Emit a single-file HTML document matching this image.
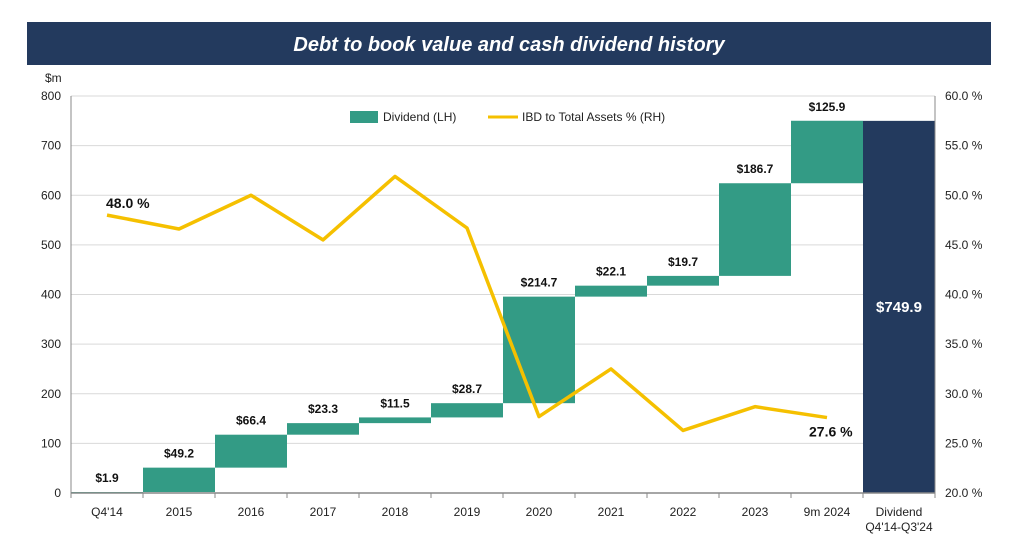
<!DOCTYPE html>
<html><head><meta charset="utf-8"><style>
body{margin:0;background:#fff;font-family:"Liberation Sans",sans-serif}
svg text{font-family:"Liberation Sans",sans-serif}
</style></head><body>
<svg width="1027" height="547">
<rect x="27" y="22" width="964" height="43" fill="#233a5e"/>
<text x="509" y="51" text-anchor="middle" fill="#fff" font-size="20" font-weight="bold" font-style="italic">Debt to book value and cash dividend history</text>
<text x="45" y="82" font-size="12" fill="#222">$m</text>
<g id="g"></g>
<g>
<rect x="350" y="111" width="28" height="12" fill="#339b85"/>
<text x="383" y="121" font-size="12" fill="#222">Dividend (LH)</text>
<line x1="488" y1="117" x2="518" y2="117" stroke="#f5c000" stroke-width="3"/>
<text x="522" y="121" font-size="12" fill="#222">IBD to Total Assets % (RH)</text>
</g>
</svg>
<script>
const categories=["Q4'14","2015","2016","2017","2018","2019","2020","2021","2022","2023","9m 2024"];
const dividends=[1.9,49.2,66.4,23.3,11.5,28.7,214.7,22.1,19.7,186.7,125.9];
const divLabels=["$1.9","$49.2","$66.4","$23.3","$11.5","$28.7","$214.7","$22.1","$19.7","$186.7","$125.9"];
const ibd=[48.0,46.6,50.0,45.5,51.9,46.7,27.7,32.5,26.3,28.7,27.6];
const total=749.9;
const leftTicks=[0,100,200,300,400,500,600,700,800];
const rightTicks=[20,25,30,35,40,45,50,55,60];
const NS="http://www.w3.org/2000/svg";const g=document.getElementById('g');
const X0=71,BW=72,Y0=493,YT=96;
const yL=v=>Y0-(v/800)*(Y0-YT);
const yR=v=>Y0-((v-20)/40)*(Y0-YT);
const cx=i=>X0+BW*(i+0.5);
function mk(t,a,txt){const e=document.createElementNS(NS,t);for(const k in a)e.setAttribute(k,a[k]);if(txt!=null)e.textContent=txt;g.appendChild(e);return e;}
leftTicks.forEach((v,i)=>{
 if(v>0){const l=mk('line',{x1:X0,x2:X0+BW*12,y1:yL(v),y2:yL(v),stroke:'#d9d9d9'});
 
 }
 const t=mk('text',{x:X0-10,y:yL(v)+4,'text-anchor':'end','font-size':12,fill:'#222'},v);
 
 
});
rightTicks.forEach(v=>{
 const t=mk('text',{x:X0+BW*12+10,y:yR(v)+4,'font-size':12,fill:'#222'},v.toFixed(1)+' %');
 
 
});
let cum=0;
dividends.forEach((d,i)=>{
 const top=yL(cum+d),bot=yL(cum);
 const r=mk('rect',{x:X0+BW*i,y:top,width:BW,height:Math.max(bot-top,1),fill:'#339b85'});
 
 
 const t=mk('text',{x:cx(i),y:top-10,'text-anchor':'middle','font-size':12,'font-weight':'bold',fill:'#111'},divLabels[i]);
 
 
 cum+=d;
});
const tb=mk('rect',{x:X0+BW*11,y:yL(total),width:BW,height:Y0-yL(total),fill:'#233a5e'});


const tt=mk('text',{x:cx(11),y:yL(total/2)+5,'text-anchor':'middle','font-size':15,'font-weight':'bold',fill:'#fff'},'$'+total.toFixed(1));


const ax=mk('line',{x1:X0,x2:X0,y1:YT,y2:Y0,stroke:'#888'});

const ar=mk('line',{x1:X0+BW*12,x2:X0+BW*12,y1:YT,y2:Y0,stroke:'#888'});

const xa=mk('line',{x1:X0,x2:X0+BW*12,y1:Y0,y2:Y0,stroke:'#888','stroke-width':1.5});

for(let i=0;i<=12;i++){const k=mk('line',{x1:X0+BW*i,x2:X0+BW*i,y1:Y0,y2:Y0+5,stroke:'#888'});
 }
categories.forEach((c,i)=>{const t=mk('text',{x:cx(i),y:516,'text-anchor':'middle','font-size':12,fill:'#222'},c);
 });
const l1=mk('text',{x:cx(11),y:516,'text-anchor':'middle','font-size':12,fill:'#222'},'Dividend');

const l2=mk('text',{x:cx(11),y:531,'text-anchor':'middle','font-size':12,fill:'#222'},"Q4'14-Q3'24");

const pl=mk('polyline',{points:ibd.map((v,i)=>cx(i)+','+yR(v)).join(' '),fill:'none',stroke:'#f5c000','stroke-width':3.5,'stroke-linejoin':'round'});

const f=mk('text',{x:cx(0)-1,y:yR(ibd[0])-7,'font-size':14,'font-weight':'bold',fill:'#111'},ibd[0].toFixed(1)+' %');

const n=ibd.length-1;
const la=mk('text',{x:cx(n)-18,y:yR(ibd[n])+19,'font-size':14,'font-weight':'bold',fill:'#111'},ibd[n].toFixed(1)+' %');

</script>
</body></html>
